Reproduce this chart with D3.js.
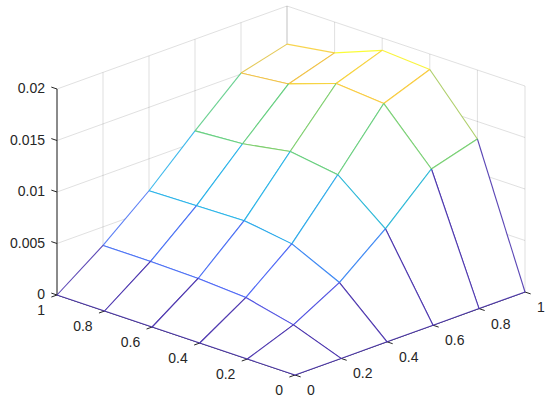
<!DOCTYPE html>
<html>
<head>
<meta charset="utf-8">
<script src="https://d3js.org/d3.v7.min.js"></script>
<title>mesh</title>
<style>
body { margin: 0; background: #fff; }
svg { display: block; }
text { font-family: "Liberation Sans", Arial, sans-serif; font-size: 14px; fill: #262626; }
</style>
</head>
<body>
<svg width="550" height="402"></svg>
<script>

// axis ticks and labels
const aTicks = [0, 0.2, 0.4, 0.6, 0.8, 1];
const aLabels = ["0", "0.2", "0.4", "0.6", "0.8", "1"];
const bTicks = [0, 0.2, 0.4, 0.6, 0.8, 1];
const bLabels = ["0", "0.2", "0.4", "0.6", "0.8", "1"];
const zTicks = [0, 0.005, 0.01, 0.015, 0.02];
const zLabels = ["0", "0.005", "0.01", "0.015", "0.02"];

// mesh grid (a = left axis, b = right axis)
const gridA = [0, 0.2, 0.4, 0.6, 0.8, 1];
const gridB = [0, 0.2, 0.4, 0.6, 0.8, 1];
// zRows[i][j] = height at gridA[i], gridB[j]
const zRows = [
  [0, 0,      0,      0,      0,      0],
  [0, 0.0017, 0.0042, 0.0078, 0.0120, 0.0133],
  [0, 0.0028, 0.0064, 0.0115, 0.0168, 0.0185],
  [0, 0.0031, 0.0071, 0.0122, 0.0172, 0.0188],
  [0, 0.0032, 0.0070, 0.0114, 0.0156, 0.0170],
  [0, 0.0032, 0.0069, 0.0111, 0.0151, 0.0163]
];

// parula-like colormap
const parulaStops = [0, 0.125, 0.25, 0.375, 0.5, 0.625, 0.75, 0.85, 0.92, 1];
const parulaColors = ["#3e26a8", "#4852f4", "#2a8cf2", "#19aee6", "#1ebeaa",
                      "#64cd6e", "#bec33c", "#fcbc3a", "#f6d02c", "#f9fb15"];

const svg = d3.select("svg");

// projection built from linear scales (one per screen component)
const origin = [295, 375];
const aX = d3.scaleLinear().domain([0, 1]).range([0, -238]);
const aY = d3.scaleLinear().domain([0, 1]).range([0, -80]);
const bX = d3.scaleLinear().domain([0, 1]).range([0, 230]);
const bY = d3.scaleLinear().domain([0, 1]).range([0, -83]);
const zY = d3.scaleLinear().domain([0, 0.02]).range([0, -206]);

function proj(a, b, z) {
  return [origin[0] + aX(a) + bX(b), origin[1] + aY(a) + bY(b) + zY(z)];
}

const cmax = d3.max(zRows.flat());
const color = d3.scaleLinear()
  .domain(parulaStops.map(t => t * cmax))
  .range(parulaColors)
  .interpolate(d3.interpolateRgb)
  .clamp(true);

function seg(g, p, q, stroke, w, op) {
  g.append("line")
    .attr("x1", p[0]).attr("y1", p[1])
    .attr("x2", q[0]).attr("y2", q[1])
    .attr("stroke", stroke)
    .attr("stroke-width", w)
    .attr("stroke-opacity", op);
}

// back walls grid
const grid = svg.append("g");
const zTop = zTicks[zTicks.length - 1];
const aMax = aTicks[aTicks.length - 1];
const bMax = bTicks[bTicks.length - 1];
bTicks.forEach(b => seg(grid, proj(aMax, b, 0), proj(aMax, b, zTop), "#262626", 1, 0.14));
zTicks.forEach(z => seg(grid, proj(aMax, 0, z), proj(aMax, bMax, z), "#262626", 1, 0.14));
aTicks.forEach(a => seg(grid, proj(a, bMax, 0), proj(a, bMax, zTop), "#262626", 1, 0.14));
zTicks.forEach(z => seg(grid, proj(0, bMax, z), proj(aMax, bMax, z), "#262626", 1, 0.14));

// axis lines and ticks
const axes = svg.append("g");
const tickLen = 6;
function unit(v) { const l = Math.hypot(v[0], v[1]); return [v[0] / l, v[1] / l]; }
const dirA = unit([aX(1), aY(1)]);   // +a on screen
const dirB = unit([bX(1), bY(1)]);   // +b on screen

seg(axes, proj(aMax, 0, 0), proj(aMax, 0, zTop), "#262626", 1, 1);
seg(axes, proj(0, 0, 0), proj(aMax, 0, 0), "#262626", 1, 1);
seg(axes, proj(0, 0, 0), proj(0, bMax, 0), "#262626", 1, 1);

zTicks.forEach(z => {
  const p = proj(aMax, 0, z);
  seg(axes, p, [p[0] + dirA[0] * tickLen, p[1] + dirA[1] * tickLen], "#262626", 1, 1);
});
aTicks.forEach(a => {
  const p = proj(a, 0, 0);
  seg(axes, p, [p[0] - dirB[0] * tickLen, p[1] - dirB[1] * tickLen], "#262626", 1, 1);
});
bTicks.forEach(b => {
  const p = proj(0, b, 0);
  seg(axes, p, [p[0] - dirA[0] * tickLen, p[1] - dirA[1] * tickLen], "#262626", 1, 1);
});

// mesh: white faces painted far to near, each with its coloured edges
const faces = [];
for (let i = 0; i < gridA.length - 1; i++) {
  for (let j = 0; j < gridB.length - 1; j++) {
    faces.push({ i: i, j: j, depth: gridA[i] + gridA[i + 1] + gridB[j] + gridB[j + 1] });
  }
}
faces.sort((p, q) => q.depth - p.depth);

function node(i, j) { return proj(gridA[i], gridB[j], zRows[i][j]); }

const mesh = svg.append("g");
const faceG = mesh.selectAll("g.face")
  .data(faces)
  .enter().append("g")
  .attr("class", "face");

faceG.append("polygon")
  .attr("points", d => [node(d.i, d.j), node(d.i + 1, d.j), node(d.i + 1, d.j + 1), node(d.i, d.j + 1)]
    .map(p => p.join(",")).join(" "))
  .attr("fill", "#fff");

faceG.each(function(d) {
  const g = d3.select(this);
  const i = d.i, j = d.j;
  const edges = [
    [[i, j], [i + 1, j], zRows[i][j]],
    [[i, j + 1], [i + 1, j + 1], zRows[i][j + 1]],
    [[i, j], [i, j + 1], zRows[i][j]],
    [[i + 1, j], [i + 1, j + 1], zRows[i + 1][j]]
  ];
  edges.forEach(e => seg(g, node(e[0][0], e[0][1]), node(e[1][0], e[1][1]), color(e[2]), 1.1, 0.85));
});

// tick labels
const labels = svg.append("g");
labels.selectAll("text.z")
  .data(zTicks)
  .enter().append("text")
  .attr("class", "z")
  .attr("x", d => proj(aMax, 0, d)[0] - 12)
  .attr("y", d => proj(aMax, 0, d)[1] - 1)
  .attr("text-anchor", "end")
  .attr("dominant-baseline", "central")
  .text((d, k) => zLabels[k]);

labels.selectAll("text.a")
  .data(aTicks)
  .enter().append("text")
  .attr("class", "a")
  .attr("x", d => proj(d, 0, 0)[0] - 12)
  .attr("y", d => proj(d, 0, 0)[1] + 15)
  .attr("text-anchor", "end")
  .attr("dominant-baseline", "central")
  .text((d, k) => aLabels[k]);

labels.selectAll("text.b")
  .data(bTicks)
  .enter().append("text")
  .attr("class", "b")
  .attr("x", d => proj(0, d, 0)[0] + 12)
  .attr("y", d => proj(0, d, 0)[1] + 15)
  .attr("text-anchor", "start")
  .attr("dominant-baseline", "central")
  .text((d, k) => bLabels[k]);

</script>
</body>
</html>
